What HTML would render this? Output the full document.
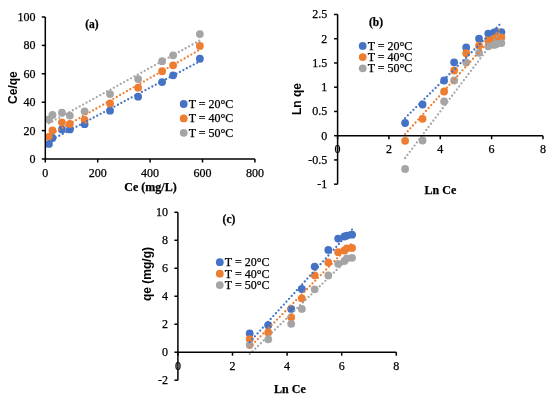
<!DOCTYPE html>
<html><head><meta charset="utf-8"><style>
html,body{margin:0;padding:0;background:#fff;}
svg{display:block;filter:blur(0.35px);}
</style></head><body>
<svg width="550" height="402" viewBox="0 0 550 402">
<rect width="550" height="402" fill="#fff"/>
<circle cx="48.93" cy="143.95" r="3.9" fill="#4472C4"/>
<circle cx="52.47" cy="137.98" r="3.9" fill="#4472C4"/>
<circle cx="61.92" cy="129.46" r="3.9" fill="#4472C4"/>
<circle cx="69.85" cy="129.46" r="3.9" fill="#4472C4"/>
<circle cx="84.58" cy="124.21" r="3.9" fill="#4472C4"/>
<circle cx="110.05" cy="110.72" r="3.9" fill="#4472C4"/>
<circle cx="138.11" cy="96.66" r="3.9" fill="#4472C4"/>
<circle cx="162.11" cy="82.04" r="3.9" fill="#4472C4"/>
<circle cx="173.12" cy="75.36" r="3.9" fill="#4472C4"/>
<circle cx="199.86" cy="58.75" r="3.9" fill="#4472C4"/>
<circle cx="48.93" cy="136.85" r="3.9" fill="#ED7D31"/>
<circle cx="52.47" cy="130.46" r="3.9" fill="#ED7D31"/>
<circle cx="61.92" cy="122.36" r="3.9" fill="#ED7D31"/>
<circle cx="69.85" cy="123.93" r="3.9" fill="#ED7D31"/>
<circle cx="84.58" cy="119.95" r="3.9" fill="#ED7D31"/>
<circle cx="110.05" cy="103.48" r="3.9" fill="#ED7D31"/>
<circle cx="138.11" cy="87.72" r="3.9" fill="#ED7D31"/>
<circle cx="162.11" cy="71.24" r="3.9" fill="#ED7D31"/>
<circle cx="173.12" cy="65.28" r="3.9" fill="#ED7D31"/>
<circle cx="199.86" cy="45.97" r="3.9" fill="#ED7D31"/>
<circle cx="48.93" cy="119.52" r="3.9" fill="#A5A5A5"/>
<circle cx="52.47" cy="114.98" r="3.9" fill="#A5A5A5"/>
<circle cx="61.92" cy="112.71" r="3.9" fill="#A5A5A5"/>
<circle cx="69.85" cy="115.55" r="3.9" fill="#A5A5A5"/>
<circle cx="84.58" cy="111.29" r="3.9" fill="#A5A5A5"/>
<circle cx="110.05" cy="94.11" r="3.9" fill="#A5A5A5"/>
<circle cx="138.11" cy="79.05" r="3.9" fill="#A5A5A5"/>
<circle cx="162.11" cy="61.16" r="3.9" fill="#A5A5A5"/>
<circle cx="173.12" cy="55.34" r="3.9" fill="#A5A5A5"/>
<circle cx="199.86" cy="34.04" r="3.9" fill="#A5A5A5"/>
<line x1="48.93" y1="141.24" x2="199.86" y2="61.34" stroke="#4472C4" stroke-width="2.3" stroke-dasharray="0 3.9" stroke-linecap="round" fill="none"/>
<line x1="48.93" y1="135.47" x2="199.86" y2="49.73" stroke="#ED7D31" stroke-width="2.3" stroke-dasharray="0 3.9" stroke-linecap="round" fill="none"/>
<line x1="48.93" y1="123.37" x2="199.86" y2="40.47" stroke="#A5A5A5" stroke-width="2.3" stroke-dasharray="0 3.9" stroke-linecap="round" fill="none"/>
<line x1="45.30" y1="159.00" x2="45.30" y2="17.00" stroke="#000" stroke-width="1.5" fill="none"/>
<line x1="45.30" y1="159.00" x2="254.90" y2="159.00" stroke="#000" stroke-width="1.5" fill="none"/>
<line x1="41.80" y1="159.00" x2="45.30" y2="159.00" stroke="#000" stroke-width="1.5" fill="none"/>
<text x="35.5" y="163.00" text-anchor="end" font-family="Liberation Serif" stroke="#000" stroke-width="0.25" font-size="12">0</text>
<line x1="41.80" y1="130.60" x2="45.30" y2="130.60" stroke="#000" stroke-width="1.5" fill="none"/>
<text x="35.5" y="134.60" text-anchor="end" font-family="Liberation Serif" stroke="#000" stroke-width="0.25" font-size="12">20</text>
<line x1="41.80" y1="102.20" x2="45.30" y2="102.20" stroke="#000" stroke-width="1.5" fill="none"/>
<text x="35.5" y="106.20" text-anchor="end" font-family="Liberation Serif" stroke="#000" stroke-width="0.25" font-size="12">40</text>
<line x1="41.80" y1="73.80" x2="45.30" y2="73.80" stroke="#000" stroke-width="1.5" fill="none"/>
<text x="35.5" y="77.80" text-anchor="end" font-family="Liberation Serif" stroke="#000" stroke-width="0.25" font-size="12">60</text>
<line x1="41.80" y1="45.40" x2="45.30" y2="45.40" stroke="#000" stroke-width="1.5" fill="none"/>
<text x="35.5" y="49.40" text-anchor="end" font-family="Liberation Serif" stroke="#000" stroke-width="0.25" font-size="12">80</text>
<line x1="41.80" y1="17.00" x2="45.30" y2="17.00" stroke="#000" stroke-width="1.5" fill="none"/>
<text x="35.5" y="21.00" text-anchor="end" font-family="Liberation Serif" stroke="#000" stroke-width="0.25" font-size="12">100</text>
<line x1="45.30" y1="159.00" x2="45.30" y2="162.50" stroke="#000" stroke-width="1.5" fill="none"/>
<text x="45.30" y="177.00" text-anchor="middle" font-family="Liberation Serif" stroke="#000" stroke-width="0.25" font-size="12">0</text>
<line x1="97.70" y1="159.00" x2="97.70" y2="162.50" stroke="#000" stroke-width="1.5" fill="none"/>
<text x="97.70" y="177.00" text-anchor="middle" font-family="Liberation Serif" stroke="#000" stroke-width="0.25" font-size="12">200</text>
<line x1="150.10" y1="159.00" x2="150.10" y2="162.50" stroke="#000" stroke-width="1.5" fill="none"/>
<text x="150.10" y="177.00" text-anchor="middle" font-family="Liberation Serif" stroke="#000" stroke-width="0.25" font-size="12">400</text>
<line x1="202.50" y1="159.00" x2="202.50" y2="162.50" stroke="#000" stroke-width="1.5" fill="none"/>
<text x="202.50" y="177.00" text-anchor="middle" font-family="Liberation Serif" stroke="#000" stroke-width="0.25" font-size="12">600</text>
<line x1="254.90" y1="159.00" x2="254.90" y2="162.50" stroke="#000" stroke-width="1.5" fill="none"/>
<text x="254.90" y="177.00" text-anchor="middle" font-family="Liberation Serif" stroke="#000" stroke-width="0.25" font-size="12">800</text>
<text x="92" y="27.5" text-anchor="middle" font-family="Liberation Serif" stroke="#000" stroke-width="0.25" font-weight="bold" font-size="11.5">(a)</text>
<text x="150.5" y="190.8" text-anchor="middle" font-family="Liberation Serif" stroke="#000" stroke-width="0.25" font-weight="bold" font-size="12">Ce (mg/L)</text>
<text transform="translate(16.5,87.6) rotate(-90)" text-anchor="middle" font-family="Liberation Sans" font-weight="bold" font-size="12">Ce/qe</text>
<circle cx="183.7" cy="104.00" r="3.9" fill="#4472C4"/>
<text x="188.7" y="108.00" font-family="Liberation Serif" stroke="#000" stroke-width="0.25" font-size="12">T = 20°C</text>
<circle cx="183.7" cy="118.40" r="3.9" fill="#ED7D31"/>
<text x="188.7" y="122.40" font-family="Liberation Serif" stroke="#000" stroke-width="0.25" font-size="12">T = 40°C</text>
<circle cx="183.7" cy="132.80" r="3.9" fill="#A5A5A5"/>
<text x="188.7" y="136.80" font-family="Liberation Serif" stroke="#000" stroke-width="0.25" font-size="12">T = 50°C</text>
<circle cx="405.11" cy="123.00" r="3.9" fill="#4472C4"/>
<circle cx="422.57" cy="104.50" r="3.9" fill="#4472C4"/>
<circle cx="444.13" cy="80.50" r="3.9" fill="#4472C4"/>
<circle cx="454.14" cy="62.30" r="3.9" fill="#4472C4"/>
<circle cx="466.21" cy="47.50" r="3.9" fill="#4472C4"/>
<circle cx="479.04" cy="38.70" r="3.9" fill="#4472C4"/>
<circle cx="488.28" cy="33.60" r="3.9" fill="#4472C4"/>
<circle cx="494.19" cy="32.30" r="3.9" fill="#4472C4"/>
<circle cx="496.50" cy="31.80" r="3.9" fill="#4472C4"/>
<circle cx="501.37" cy="32.20" r="3.9" fill="#4472C4"/>
<circle cx="405.11" cy="140.80" r="3.9" fill="#ED7D31"/>
<circle cx="422.57" cy="118.80" r="3.9" fill="#ED7D31"/>
<circle cx="444.13" cy="91.50" r="3.9" fill="#ED7D31"/>
<circle cx="454.14" cy="70.50" r="3.9" fill="#ED7D31"/>
<circle cx="466.21" cy="53.20" r="3.9" fill="#ED7D31"/>
<circle cx="479.04" cy="45.60" r="3.9" fill="#ED7D31"/>
<circle cx="488.28" cy="40.20" r="3.9" fill="#ED7D31"/>
<circle cx="494.19" cy="39.00" r="3.9" fill="#ED7D31"/>
<circle cx="496.50" cy="37.60" r="3.9" fill="#ED7D31"/>
<circle cx="501.37" cy="37.50" r="3.9" fill="#ED7D31"/>
<circle cx="405.11" cy="169.00" r="3.9" fill="#A5A5A5"/>
<circle cx="422.57" cy="140.50" r="3.9" fill="#A5A5A5"/>
<circle cx="444.13" cy="101.50" r="3.9" fill="#A5A5A5"/>
<circle cx="454.14" cy="80.50" r="3.9" fill="#A5A5A5"/>
<circle cx="466.21" cy="62.50" r="3.9" fill="#A5A5A5"/>
<circle cx="479.04" cy="52.80" r="3.9" fill="#A5A5A5"/>
<circle cx="488.28" cy="46.30" r="3.9" fill="#A5A5A5"/>
<circle cx="494.19" cy="44.90" r="3.9" fill="#A5A5A5"/>
<circle cx="496.50" cy="44.00" r="3.9" fill="#A5A5A5"/>
<circle cx="501.37" cy="43.10" r="3.9" fill="#A5A5A5"/>
<line x1="405.11" y1="118.08" x2="501.37" y2="22.79" stroke="#4472C4" stroke-width="2.3" stroke-dasharray="0 3.9" stroke-linecap="round" fill="none"/>
<line x1="405.11" y1="134.08" x2="501.37" y2="27.29" stroke="#ED7D31" stroke-width="2.3" stroke-dasharray="0 3.9" stroke-linecap="round" fill="none"/>
<line x1="405.11" y1="158.00" x2="501.37" y2="30.56" stroke="#A5A5A5" stroke-width="2.3" stroke-dasharray="0 3.9" stroke-linecap="round" fill="none"/>
<line x1="337.60" y1="184.19" x2="337.60" y2="14.47" stroke="#000" stroke-width="1.5" fill="none"/>
<line x1="337.60" y1="135.70" x2="542.96" y2="135.70" stroke="#000" stroke-width="1.5" fill="none"/>
<line x1="334.10" y1="184.19" x2="337.60" y2="184.19" stroke="#000" stroke-width="1.5" fill="none"/>
<text x="327.2" y="188.19" text-anchor="end" font-family="Liberation Serif" stroke="#000" stroke-width="0.25" font-size="12">-1</text>
<line x1="334.10" y1="159.94" x2="337.60" y2="159.94" stroke="#000" stroke-width="1.5" fill="none"/>
<text x="327.2" y="163.94" text-anchor="end" font-family="Liberation Serif" stroke="#000" stroke-width="0.25" font-size="12">-0.5</text>
<line x1="334.10" y1="135.70" x2="337.60" y2="135.70" stroke="#000" stroke-width="1.5" fill="none"/>
<text x="327.2" y="139.70" text-anchor="end" font-family="Liberation Serif" stroke="#000" stroke-width="0.25" font-size="12">0</text>
<line x1="334.10" y1="111.45" x2="337.60" y2="111.45" stroke="#000" stroke-width="1.5" fill="none"/>
<text x="327.2" y="115.45" text-anchor="end" font-family="Liberation Serif" stroke="#000" stroke-width="0.25" font-size="12">0.5</text>
<line x1="334.10" y1="87.21" x2="337.60" y2="87.21" stroke="#000" stroke-width="1.5" fill="none"/>
<text x="327.2" y="91.21" text-anchor="end" font-family="Liberation Serif" stroke="#000" stroke-width="0.25" font-size="12">1</text>
<line x1="334.10" y1="62.96" x2="337.60" y2="62.96" stroke="#000" stroke-width="1.5" fill="none"/>
<text x="327.2" y="66.96" text-anchor="end" font-family="Liberation Serif" stroke="#000" stroke-width="0.25" font-size="12">1.5</text>
<line x1="334.10" y1="38.72" x2="337.60" y2="38.72" stroke="#000" stroke-width="1.5" fill="none"/>
<text x="327.2" y="42.72" text-anchor="end" font-family="Liberation Serif" stroke="#000" stroke-width="0.25" font-size="12">2</text>
<line x1="334.10" y1="14.47" x2="337.60" y2="14.47" stroke="#000" stroke-width="1.5" fill="none"/>
<text x="327.2" y="18.47" text-anchor="end" font-family="Liberation Serif" stroke="#000" stroke-width="0.25" font-size="12">2.5</text>
<line x1="337.60" y1="135.70" x2="337.60" y2="139.20" stroke="#000" stroke-width="1.5" fill="none"/>
<text x="337.60" y="153.20" text-anchor="middle" font-family="Liberation Serif" stroke="#000" stroke-width="0.25" font-size="12">0</text>
<line x1="388.94" y1="135.70" x2="388.94" y2="139.20" stroke="#000" stroke-width="1.5" fill="none"/>
<text x="388.94" y="153.20" text-anchor="middle" font-family="Liberation Serif" stroke="#000" stroke-width="0.25" font-size="12">2</text>
<line x1="440.28" y1="135.70" x2="440.28" y2="139.20" stroke="#000" stroke-width="1.5" fill="none"/>
<text x="440.28" y="153.20" text-anchor="middle" font-family="Liberation Serif" stroke="#000" stroke-width="0.25" font-size="12">4</text>
<line x1="491.62" y1="135.70" x2="491.62" y2="139.20" stroke="#000" stroke-width="1.5" fill="none"/>
<text x="491.62" y="153.20" text-anchor="middle" font-family="Liberation Serif" stroke="#000" stroke-width="0.25" font-size="12">6</text>
<line x1="542.96" y1="135.70" x2="542.96" y2="139.20" stroke="#000" stroke-width="1.5" fill="none"/>
<text x="542.96" y="153.20" text-anchor="middle" font-family="Liberation Serif" stroke="#000" stroke-width="0.25" font-size="12">8</text>
<text x="376" y="25.5" text-anchor="middle" font-family="Liberation Serif" stroke="#000" stroke-width="0.25" font-weight="bold" font-size="11.5">(b)</text>
<text x="440.4" y="194" text-anchor="middle" font-family="Liberation Serif" stroke="#000" stroke-width="0.25" font-weight="bold" font-size="12">Ln Ce</text>
<text transform="translate(301.2,99) rotate(-90)" text-anchor="middle" font-family="Liberation Sans" font-weight="bold" font-size="12">Ln qe</text>
<circle cx="362.7" cy="45.90" r="3.9" fill="#4472C4"/>
<text x="367.7" y="49.90" font-family="Liberation Serif" stroke="#000" stroke-width="0.25" font-size="12">T = 20°C</text>
<circle cx="362.7" cy="57.10" r="3.9" fill="#ED7D31"/>
<text x="367.7" y="61.10" font-family="Liberation Serif" stroke="#000" stroke-width="0.25" font-size="12">T = 40°C</text>
<circle cx="362.7" cy="68.30" r="3.9" fill="#A5A5A5"/>
<text x="367.7" y="72.30" font-family="Liberation Serif" stroke="#000" stroke-width="0.25" font-size="12">T = 50°C</text>
<circle cx="249.70" cy="333.40" r="3.9" fill="#4472C4"/>
<circle cx="268.26" cy="325.20" r="3.9" fill="#4472C4"/>
<circle cx="291.20" cy="308.90" r="3.9" fill="#4472C4"/>
<circle cx="301.84" cy="289.00" r="3.9" fill="#4472C4"/>
<circle cx="314.67" cy="266.60" r="3.9" fill="#4472C4"/>
<circle cx="328.32" cy="249.90" r="3.9" fill="#4472C4"/>
<circle cx="338.15" cy="238.60" r="3.9" fill="#4472C4"/>
<circle cx="344.43" cy="236.50" r="3.9" fill="#4472C4"/>
<circle cx="346.89" cy="235.60" r="3.9" fill="#4472C4"/>
<circle cx="352.07" cy="234.70" r="3.9" fill="#4472C4"/>
<circle cx="249.70" cy="339.10" r="3.9" fill="#ED7D31"/>
<circle cx="268.26" cy="332.40" r="3.9" fill="#ED7D31"/>
<circle cx="291.20" cy="317.30" r="3.9" fill="#ED7D31"/>
<circle cx="301.84" cy="298.30" r="3.9" fill="#ED7D31"/>
<circle cx="314.67" cy="275.30" r="3.9" fill="#ED7D31"/>
<circle cx="328.32" cy="262.50" r="3.9" fill="#ED7D31"/>
<circle cx="338.15" cy="252.20" r="3.9" fill="#ED7D31"/>
<circle cx="344.43" cy="250.50" r="3.9" fill="#ED7D31"/>
<circle cx="346.89" cy="248.30" r="3.9" fill="#ED7D31"/>
<circle cx="352.07" cy="247.90" r="3.9" fill="#ED7D31"/>
<circle cx="249.70" cy="345.10" r="3.9" fill="#A5A5A5"/>
<circle cx="268.26" cy="339.30" r="3.9" fill="#A5A5A5"/>
<circle cx="291.20" cy="323.80" r="3.9" fill="#A5A5A5"/>
<circle cx="301.84" cy="308.90" r="3.9" fill="#A5A5A5"/>
<circle cx="314.67" cy="289.30" r="3.9" fill="#A5A5A5"/>
<circle cx="328.32" cy="275.40" r="3.9" fill="#A5A5A5"/>
<circle cx="338.15" cy="263.80" r="3.9" fill="#A5A5A5"/>
<circle cx="344.43" cy="261.00" r="3.9" fill="#A5A5A5"/>
<circle cx="346.89" cy="258.30" r="3.9" fill="#A5A5A5"/>
<circle cx="352.07" cy="257.80" r="3.9" fill="#A5A5A5"/>
<line x1="249.70" y1="342.09" x2="352.07" y2="229.46" stroke="#4472C4" stroke-width="2.3" stroke-dasharray="0 3.9" stroke-linecap="round" fill="none"/>
<line x1="249.70" y1="347.43" x2="352.07" y2="243.14" stroke="#ED7D31" stroke-width="2.3" stroke-dasharray="0 3.9" stroke-linecap="round" fill="none"/>
<line x1="249.70" y1="354.08" x2="352.07" y2="254.98" stroke="#A5A5A5" stroke-width="2.3" stroke-dasharray="0 3.9" stroke-linecap="round" fill="none"/>
<line x1="177.90" y1="380.18" x2="177.90" y2="212.30" stroke="#000" stroke-width="1.5" fill="none"/>
<line x1="177.90" y1="352.20" x2="396.30" y2="352.20" stroke="#000" stroke-width="1.5" fill="none"/>
<line x1="174.40" y1="380.18" x2="177.90" y2="380.18" stroke="#000" stroke-width="1.5" fill="none"/>
<text x="168" y="384.18" text-anchor="end" font-family="Liberation Serif" stroke="#000" stroke-width="0.25" font-size="12">-2</text>
<line x1="174.40" y1="352.20" x2="177.90" y2="352.20" stroke="#000" stroke-width="1.5" fill="none"/>
<text x="168" y="356.20" text-anchor="end" font-family="Liberation Serif" stroke="#000" stroke-width="0.25" font-size="12">0</text>
<line x1="174.40" y1="324.22" x2="177.90" y2="324.22" stroke="#000" stroke-width="1.5" fill="none"/>
<text x="168" y="328.22" text-anchor="end" font-family="Liberation Serif" stroke="#000" stroke-width="0.25" font-size="12">2</text>
<line x1="174.40" y1="296.24" x2="177.90" y2="296.24" stroke="#000" stroke-width="1.5" fill="none"/>
<text x="168" y="300.24" text-anchor="end" font-family="Liberation Serif" stroke="#000" stroke-width="0.25" font-size="12">4</text>
<line x1="174.40" y1="268.26" x2="177.90" y2="268.26" stroke="#000" stroke-width="1.5" fill="none"/>
<text x="168" y="272.26" text-anchor="end" font-family="Liberation Serif" stroke="#000" stroke-width="0.25" font-size="12">6</text>
<line x1="174.40" y1="240.28" x2="177.90" y2="240.28" stroke="#000" stroke-width="1.5" fill="none"/>
<text x="168" y="244.28" text-anchor="end" font-family="Liberation Serif" stroke="#000" stroke-width="0.25" font-size="12">8</text>
<line x1="174.40" y1="212.30" x2="177.90" y2="212.30" stroke="#000" stroke-width="1.5" fill="none"/>
<text x="168" y="216.30" text-anchor="end" font-family="Liberation Serif" stroke="#000" stroke-width="0.25" font-size="12">10</text>
<line x1="177.90" y1="352.20" x2="177.90" y2="355.70" stroke="#000" stroke-width="1.5" fill="none"/>
<text x="177.90" y="370.20" text-anchor="middle" font-family="Liberation Serif" stroke="#000" stroke-width="0.25" font-size="12">0</text>
<line x1="232.50" y1="352.20" x2="232.50" y2="355.70" stroke="#000" stroke-width="1.5" fill="none"/>
<text x="232.50" y="370.20" text-anchor="middle" font-family="Liberation Serif" stroke="#000" stroke-width="0.25" font-size="12">2</text>
<line x1="287.10" y1="352.20" x2="287.10" y2="355.70" stroke="#000" stroke-width="1.5" fill="none"/>
<text x="287.10" y="370.20" text-anchor="middle" font-family="Liberation Serif" stroke="#000" stroke-width="0.25" font-size="12">4</text>
<line x1="341.70" y1="352.20" x2="341.70" y2="355.70" stroke="#000" stroke-width="1.5" fill="none"/>
<text x="341.70" y="370.20" text-anchor="middle" font-family="Liberation Serif" stroke="#000" stroke-width="0.25" font-size="12">6</text>
<line x1="396.30" y1="352.20" x2="396.30" y2="355.70" stroke="#000" stroke-width="1.5" fill="none"/>
<text x="396.30" y="370.20" text-anchor="middle" font-family="Liberation Serif" stroke="#000" stroke-width="0.25" font-size="12">8</text>
<text x="229" y="223" text-anchor="middle" font-family="Liberation Serif" stroke="#000" stroke-width="0.25" font-weight="bold" font-size="11.5">(c)</text>
<text x="289.9" y="393.3" text-anchor="middle" font-family="Liberation Serif" stroke="#000" stroke-width="0.25" font-weight="bold" font-size="12">Ln Ce</text>
<text transform="translate(151,274) rotate(-90)" text-anchor="middle" font-family="Liberation Sans" font-weight="bold" font-size="12">qe (mg/g)</text>
<circle cx="219.8" cy="262.20" r="3.9" fill="#4472C4"/>
<text x="224.8" y="266.20" font-family="Liberation Serif" stroke="#000" stroke-width="0.25" font-size="12">T = 20°C</text>
<circle cx="219.8" cy="273.65" r="3.9" fill="#ED7D31"/>
<text x="224.8" y="277.65" font-family="Liberation Serif" stroke="#000" stroke-width="0.25" font-size="12">T = 40°C</text>
<circle cx="219.8" cy="285.10" r="3.9" fill="#A5A5A5"/>
<text x="224.8" y="289.10" font-family="Liberation Serif" stroke="#000" stroke-width="0.25" font-size="12">T = 50°C</text>
</svg>
</body></html>
